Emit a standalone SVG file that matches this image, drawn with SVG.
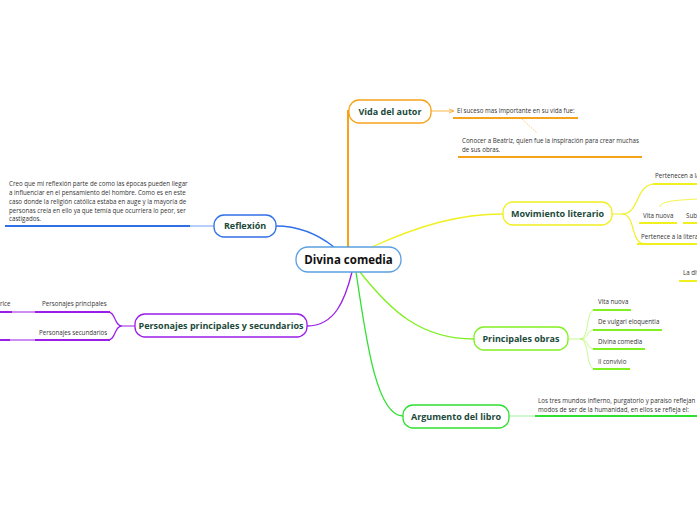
<svg xmlns="http://www.w3.org/2000/svg" width="697" height="520" viewBox="0 0 697 520">
<style>
text{font-family:"Open Sans","Noto Sans",sans-serif;fill:#333}
.t{font-size:6.2px}
.n{font-size:9px;font-weight:bold;fill:#1b4a3a;text-anchor:middle}
.box{fill:#fff;stroke-width:1.3}
.c{fill:none}
</style>
<rect width="697" height="520" fill="#fff"/>
<g id="connectors" class="c">
<path d="M348 247 V111 Q348 111 352 111" stroke="#f7a21b" stroke-width="2" class="c"/>
<path d="M431 111 H453" stroke="#f7a21b" stroke-width="0.8"/>
<path d="M449 109 L454 111 L449 113" stroke="#f7a21b" stroke-width="0.8"/>
<path d="M453 118 H578" stroke="#f7a21b" stroke-width="2"/>
<path d="M522 119 L537 133" stroke="#f7a21b" stroke-width="0.8" stroke-dasharray="1,1.5"/>
<path d="M458 157 H642" stroke="#f7a21b" stroke-width="2"/>
<path d="M334 247 C315 232 295 226 276 226" stroke="#2f6fe8" stroke-width="1.3"/>
<path d="M5 226 H190" stroke="#2f6fe8" stroke-width="2"/>
<path d="M190 226 H214" stroke="#b8cdf8" stroke-width="2"/>
<path d="M352 272 C345 300 335 326 307 326" stroke="#9b1ee8" stroke-width="1.3"/>
<path d="M135 326 H122 C114 326 116 312 108 312 H0" stroke="#9b1ee8" stroke-width="1.2"/>
<path d="M122 326 C114 326 116 340 108 340 H0" stroke="#9b1ee8" stroke-width="1.2"/>
<path d="M0 312 H12 M35 312 H110" stroke="#9b1ee8" stroke-width="2"/>
<path d="M0 340 H10 M35 340 H110" stroke="#9b1ee8" stroke-width="2"/>
<path d="M372 247 C420 225 460 214 503 214" stroke="#f0f020" stroke-width="1.3"/>
<path d="M612 214 H622 C640 214 635 184 655 184 H697" stroke="#f0f020" stroke-width="1.2"/>
<path d="M622 214 C636 214 630 244 645 244 H697" stroke="#f0f020" stroke-width="1.2"/>
<path d="M653 184 H697 M637 244 H697 M639 223 H677 M683 223 H697 M679 281 H697" stroke="#f0f020" stroke-width="2"/>
<path d="M660 207 C660 200 685 200 697 199" stroke="#f0f020" stroke-width="0.8"/>
<path d="M360 272 C390 310 420 339 474 339" stroke="#80f020" stroke-width="1.3"/>
<path d="M568 339 H580 C590 339 585 310 595 310 M580 339 C590 339 585 330 595 330 M580 339 C590 339 585 349 595 349 M580 339 C590 339 585 369 595 369" stroke="#b8f870" stroke-width="0.8"/>
<path d="M593 310 H631 M593 330 H662 M593 349 H645 M593 369 H630" stroke="#80f020" stroke-width="2"/>
<path d="M356 272 C365 330 375 416 403 416" stroke="#30e030" stroke-width="1.3"/>
<path d="M509 416 H535" stroke="#a0f0a0" stroke-width="1"/>
<path d="M535 416 H697" stroke="#30e030" stroke-width="2"/>
</g>
<g id="central"><rect class="box" x="296" y="247" width="105" height="25" rx="12" stroke="#5aa0e0"/><text x="348.5" y="263.5" style="font-size:11.5px;font-weight:bold;text-anchor:middle;fill:#111">Divina comedia</text></g>
<g id="vida"><rect class="box" x="349" y="100" width="82" height="23" rx="10" stroke="#f7a21b"/><text class="n" x="390" y="114.5">Vida del autor</text>
<text class="t" x="457" y="113">El suceso mas importante en su vida fue:</text>
<text class="t" x="462" y="143">Conocer a Beatriz, quien fue la inspiración para crear muchas</text>
<text class="t" x="462" y="152">de sus obras.</text></g>
<g id="reflexion"><rect class="box" x="214" y="215" width="62" height="22" rx="10" stroke="#2f6fe8"/><text class="n" x="245" y="229">Reflexión</text>
<text class="t" x="9" y="186">Creo que mi reflexión parte de como las épocas pueden llegar</text>
<text class="t" x="9" y="195">a influenciar en el pensamiento del hombre. Como es en este</text>
<text class="t" x="9" y="204">caso donde la religión católica estaba en auge y la mayoría de</text>
<text class="t" x="9" y="213">personas creía en ello ya que temía que ocurriera lo peor, ser</text>
<text class="t" x="9" y="221">castigados.</text></g>
<g id="personajes"><rect class="box" x="135" y="314" width="172" height="23" rx="10" stroke="#9b1ee8"/><text class="n" x="221" y="328.5">Personajes principales y secundarios</text>
<text class="t" x="0" y="306">rice</text>
<text class="t" x="42" y="306">Personajes principales</text>
<text class="t" x="39" y="335">Personajes secundarios</text></g>
<g id="movimiento"><rect class="box" x="503" y="202" width="109" height="23" rx="10" stroke="#f0f020"/><text class="n" x="557.5" y="216.5">Movimiento literario</text>
<text class="t" x="655" y="178">Pertenecen a la</text>
<text class="t" x="643" y="218">Vita nuova</text>
<text class="t" x="686" y="218">Sub</text>
<text class="t" x="641" y="239">Pertenece a la literatura</text>
<text class="t" x="683" y="275">La divina</text></g>
<g id="obras"><rect class="box" x="474" y="327" width="94" height="23" rx="10" stroke="#80f020"/><text class="n" x="521" y="341.5">Principales obras</text>
<text class="t" x="598" y="304">Vita nuova</text>
<text class="t" x="598" y="324">De vulgari eloquentia</text>
<text class="t" x="598" y="344">Divina comedia</text>
<text class="t" x="598" y="364">Il convivio</text></g>
<g id="argumento"><rect class="box" x="403" y="405" width="106" height="23" rx="10" stroke="#30e030"/><text class="n" x="456" y="419.5">Argumento del libro</text>
<text class="t" x="538" y="403">Los tres mundos infierno, purgatorio y paraíso reflejan tres</text>
<text class="t" x="538" y="412">modos de ser de la humanidad, en ellos se refleja el:</text></g>
</svg>
